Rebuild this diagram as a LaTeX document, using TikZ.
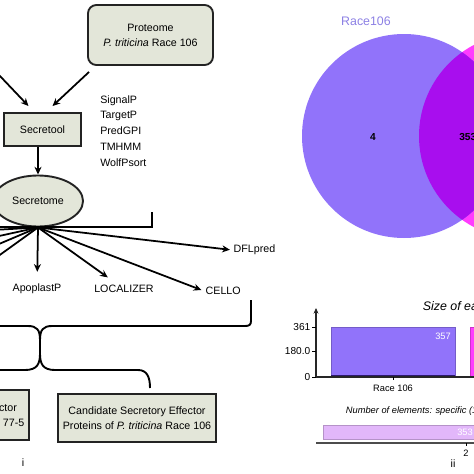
\documentclass[tikz,border=0pt]{standalone}
\usepackage{fontspec}
\setmainfont{Liberation Sans}
\usetikzlibrary{arrows.meta,positioning,shapes.geometric,calc}
\definecolor{boxfill}{RGB}{227,230,217}
\definecolor{boxline}{RGB}{35,35,35}
\definecolor{vlav}{RGB}{145,115,250}
\definecolor{vmag}{RGB}{255,60,255}
\definecolor{vint}{RGB}{168,14,238}
\definecolor{vtitle}{RGB}{140,128,228}
\definecolor{vbar}{RGB}{226,183,250}
\definecolor{vnavy}{RGB}{45,25,110}
\newcommand{\lblfont}{\fontsize{7.6pt}{10.8pt}\selectfont}
\newcommand{\listfont}{\fontsize{7.6pt}{11.3pt}\selectfont}
\newcommand{\smfont}{\fontsize{6.6pt}{8pt}\selectfont}
\newcommand{\tickfont}{\fontsize{7.2pt}{8pt}\selectfont}

\begin{document}
\begin{tikzpicture}[x=0.025cm, y=-0.025cm,
  flowbox/.style={draw=boxline, fill=boxfill, line width=1.35pt, align=center, font=\lblfont},
  arr/.style={-{Stealth[length=5.5pt,width=5pt]}, line width=1.25pt},
  tool/.style={font=\lblfont, inner sep=1pt},
  axis/.style={line width=0.9pt, draw=black!85}]
  \useasboundingbox (0,0) rectangle (474,474);
  \clip (0,0) rectangle (474,474);

  %% Panel i: boxes
  \node[flowbox, rounded corners=6pt, minimum width=3.125cm, minimum height=1.5cm] (prot) at (150.5,35)
    {Proteome\\\textit{P. triticina} Race 106};
  \node[flowbox, minimum width=1.925cm, minimum height=0.825cm] (stool) at (42.5,129.5) {Secretool};
  \node[flowbox, ellipse, inner sep=0pt, minimum width=2.25cm, minimum height=1.275cm] (stome) at (38,201) {Secretome};
  \node[anchor=west, align=left, font=\listfont, inner sep=0pt] (tools) at (100,131)
    {SignalP\\TargetP\\PredGPI\\TMHMM\\WolfPsort};

  %% Panel i: arrows into Secretool
  \coordinate (from77) at (-20,55);
  \draw[arr] (from77) -- ($(stool.north)+(-14,-6)$);
  \draw[arr] ($(prot.south west)+(2,6)$) -- ($(stool.north)+(10,-6)$);
  \draw[arr] (stome.north |- stool.south) -- (stome.north);

  %% Panel i: prediction tools
  \coordinate (hub) at (stome.south);
  \node[tool] (apo) at (37,289) {ApoplastP};
  \node[tool] (loc) at (124,289) {LOCALIZER};
  \node[tool, anchor=west] (cello) at (204,291) {CELLO};
  \node[tool, anchor=west] (dfl) at (232,250) {DFLpred};
  \draw[arr, shorten >=7.5pt] (hub) -- (apo);
  \draw[arr, shorten >=7.5pt] (hub) -- (loc);
  \draw[arr, shorten >=2pt] (hub) -- (cello.west);
  \draw[arr, shorten >=1.5pt] (hub) -- (dfl.west);
  \foreach \ly [count=\i] in {233,249,269,298}
    \coordinate (off\i) at (-60,\ly);
  \foreach \i in {1,...,4}
    \draw[arr] (hub) -- (off\i);

  %% Panel i: bracket and brace
  \coordinate (brkL) at (-60,227);
  \coordinate (brkR) at (152,212);
  \draw[line width=1.25pt] (brkL) -| (brkR);
  \draw[line width=1.35pt] (-5,326) -- (28,326) .. controls (37,326) and (40,330) .. (40,340) -- (40,354)
    .. controls (40,364) and (43,370) .. (55,370) -- (138,370) .. controls (147,370) and (150,377) .. (150,388);
  \draw[line width=1.35pt] (251,300) -- (251,321) .. controls (251,325) and (249,326) .. (245,326) -- (52,326)
    .. controls (43,326) and (40,330) .. (40,340);
  \draw[line width=1.35pt] (40,354) .. controls (40,364) and (37,370) .. (25,370) -- (-5,370);

  %% Panel i: candidate effectors
  \node[flowbox, anchor=east, minimum width=3.75cm, minimum height=1.25cm] (cand77) at (30,415)
    {Candidate Secretory Effector\\Proteins of \textit{P. triticina} Race 77-5};
  \node[flowbox, minimum width=3.75cm, minimum height=1.2cm] (cand106) at (137,418)
    {Candidate Secretory Effector\\Proteins of \textit{P. triticina} Race 106};
  \node[font=\lblfont] (lbli) at (23,463) {i};

  %% Panel ii: Venn diagram
  \fill[vmag] (522,136) circle[radius=103];
  \fill[vlav] (404,136) circle[radius=102];
  \begin{scope}
    \clip (522,136) circle[radius=103];
    \fill[vint] (404,136) circle[radius=102];
  \end{scope}
  \node[font=\fontsize{8.8pt}{10pt}\selectfont, text=vtitle] (vtit) at (366,21) {Race106};
  \node[font=\tickfont\bfseries] (n4) at (373,137) {4};
  \node[font=\tickfont\bfseries, anchor=west, inner sep=0pt] (n353) at (459,137) {353};

  %% Panel ii: size of each list
  \node[anchor=west, font=\fontsize{8.8pt}{10pt}\selectfont\itshape] (ttl) at (418,306) {Size of each list};
  \draw[fill=vlav, draw=vlav!80!black, line width=0.5pt] (331,327) rectangle (455,377);
  \draw[fill=vmag, draw=vmag!80!black, line width=0.5pt] (470,327) rectangle (490,377);
  \draw[line width=1.2pt, vnavy] (331,376) -- (455,376);
  \node[font=\smfont, text=white] (v357) at (443,336) {357};
  \draw[axis, -{Stealth[length=4pt,width=3.5pt]}] (316,377) -- (316,308);
  \draw[axis] (316,377) -- (490,377);
  \foreach \yv/\lab [count=\k] in {327/361, 351/180.0, 377/0} {
    \draw[line width=0.6pt] (312,\yv) -- (316,\yv);
    \node[anchor=east, font=\tickfont, inner sep=1pt] (ytick\k) at (312,\yv) {\lab};
  }
  \draw[line width=0.6pt] (393,377) -- (393,380);
  \node[font=\smfont] (xlab) at (393,388) {Race 106};

  %% Panel ii: number of elements
  \node[anchor=west, font=\smfont\itshape] (nel) at (341,411)
    {Number of elements: specific (1) or shared by 2, 3, ... lists};
  \draw[fill=vbar, draw=vbar!80!black, line width=0.5pt] (323,425) rectangle (490,439);
  \node[font=\smfont, text=white, anchor=west, inner sep=0pt] (b353) at (457,432) {353};
  \draw[axis, draw=black!70] (316,443) -- (490,443);
  \draw[line width=0.6pt] (466,443) -- (466,446);
  \node[font=\smfont] (x2) at (466,453) {2};
  \node[font=\lblfont] (lblii) at (453,464) {ii};
\end{tikzpicture}
\end{document}
